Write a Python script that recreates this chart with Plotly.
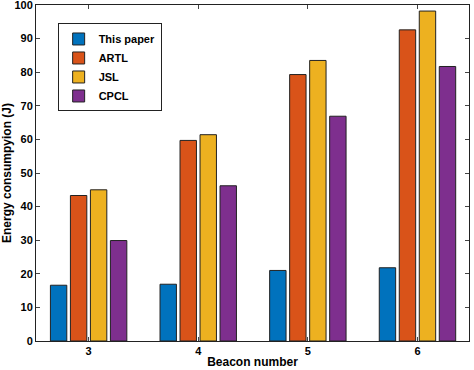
import plotly.graph_objects as go

beacons = [3, 4, 5, 6]
this_paper = [16.6, 16.9, 21.0, 21.8]
artl = [43.3, 59.7, 79.3, 92.6]
jsl = [45.0, 61.4, 83.5, 98.2]
cpcl = [29.9, 46.2, 66.9, 81.7]
names = ["This paper", "ARTL", "JSL", "CPCL"]
colors = ["#0072BD", "#D95319", "#EDB120", "#7E2F8E"]
yticks = list(range(0, 101, 10))

fig = go.Figure()
for name, vals, c in zip(names, [this_paper, artl, jsl, cpcl], colors):
    fig.add_trace(go.Bar(x=beacons, y=vals, name=name, marker=dict(color=c, line=dict(color="#222222", width=1))))

font = dict(family="Liberation Sans, Arial", size=11, color="black")
fig.update_layout(
    width=474, height=370,
    margin=dict(l=36, r=5, t=5, b=29),
    paper_bgcolor="white", plot_bgcolor="white",
    barmode="group", bargap=0.27, bargroupgap=0.18,
    font=font,
    showlegend=True,
    legend=dict(x=0.05, y=0.945, xanchor="left", yanchor="top",
                bgcolor="white", bordercolor="#222222", borderwidth=1,
                font=dict(family="Liberation Sans, Arial", size=11, color="black", weight="bold"),
                tracegroupgap=0, itemwidth=30),
    xaxis=dict(range=[2.52, 6.47], tickvals=beacons, ticktext=[f"<b>{b}</b>" for b in beacons],
               showline=True, linecolor="#222222", linewidth=1, mirror="ticks",
               ticks="inside", ticklen=4, tickcolor="#444444",
               showgrid=False, zeroline=False, automargin=False,
               title=dict(text="<b>Beacon number</b>", standoff=1, font=dict(size=12))),
    yaxis=dict(range=[0, 100], tickvals=yticks, ticktext=[f"<b>{t}</b>" for t in yticks],
               showline=True, linecolor="#222222", linewidth=1, mirror="ticks",
               ticks="inside", ticklen=4, tickcolor="#444444",
               showgrid=False, zeroline=False, automargin=False, ticklabeloverflow="allow",
               title=dict(text="<b>Energy consumpyion (J)</b>", standoff=7, font=dict(size=12))),
)
fig.write_html("out.html", config={"displayModeBar": False},
               post_script="document.body.style.margin='0';document.body.style.overflow='hidden';")
